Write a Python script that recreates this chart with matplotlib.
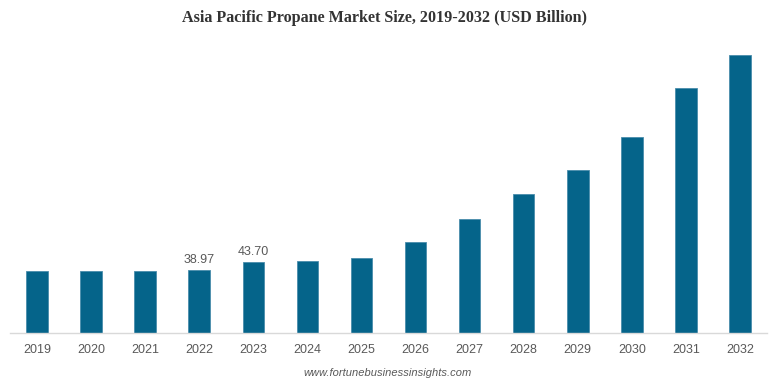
import matplotlib.pyplot as plt

# data (USD Billion)
years = ["2019", "2020", "2021", "2022", "2023", "2024", "2025",
         "2026", "2027", "2028", "2029", "2030", "2031", "2032"]
values = [38.36, 37.99, 38.17, 38.97, 43.70, 44.1, 46.1,
          56.1, 70.0, 85.2, 100.1, 120.1, 150.1, 170.3]
labeled = {"2022": "38.97", "2023": "43.70"}

bar_color = "#05648a"
text_color = "#595959"

fig = plt.figure(figsize=(7.7, 3.85), dpi=100)
ax = fig.add_axes([10 / 770, 1 - 333.3 / 385, 757 / 770, 293.3 / 385])

x = range(len(years))
ax.bar(x, values, width=0.4, color=bar_color, edgecolor="#4a8cab", linewidth=0.6)
ax.set_xlim(-0.5, len(years) - 0.5)
ax.set_ylim(0, 293.3 / 1.632)

# data labels for the two highlighted years
for i, (yr, v) in enumerate(zip(years, values)):
    if yr in labeled:
        ax.text(i, v + 2.2, labeled[yr], ha="center", va="bottom",
                fontsize=9, color=text_color, family="Liberation Sans")

ax.set_xticks(list(x))
ax.set_xticklabels(years, fontsize=9, color=text_color, family="Liberation Sans")
ax.tick_params(axis="x", length=0, pad=8)
ax.set_yticks([])
for s in ["top", "right", "left"]:
    ax.spines[s].set_visible(False)
ax.spines["bottom"].set_color("#d9d9d9")
ax.spines["bottom"].set_linewidth(1)

fig.text(384 / 770, 1 - 18 / 385, "Asia Pacific Propane Market Size, 2019-2032 (USD Billion)",
         ha="center", va="center", fontsize=11.6, fontweight="bold",
         family="Liberation Serif", color="#333333")
fig.text(388 / 770, 1 - 373 / 385, "www.fortunebusinessinsights.com",
         ha="center", va="center", fontsize=8, style="italic",
         family="Liberation Sans", color=text_color)

plt.savefig("out.png", dpi=100)
